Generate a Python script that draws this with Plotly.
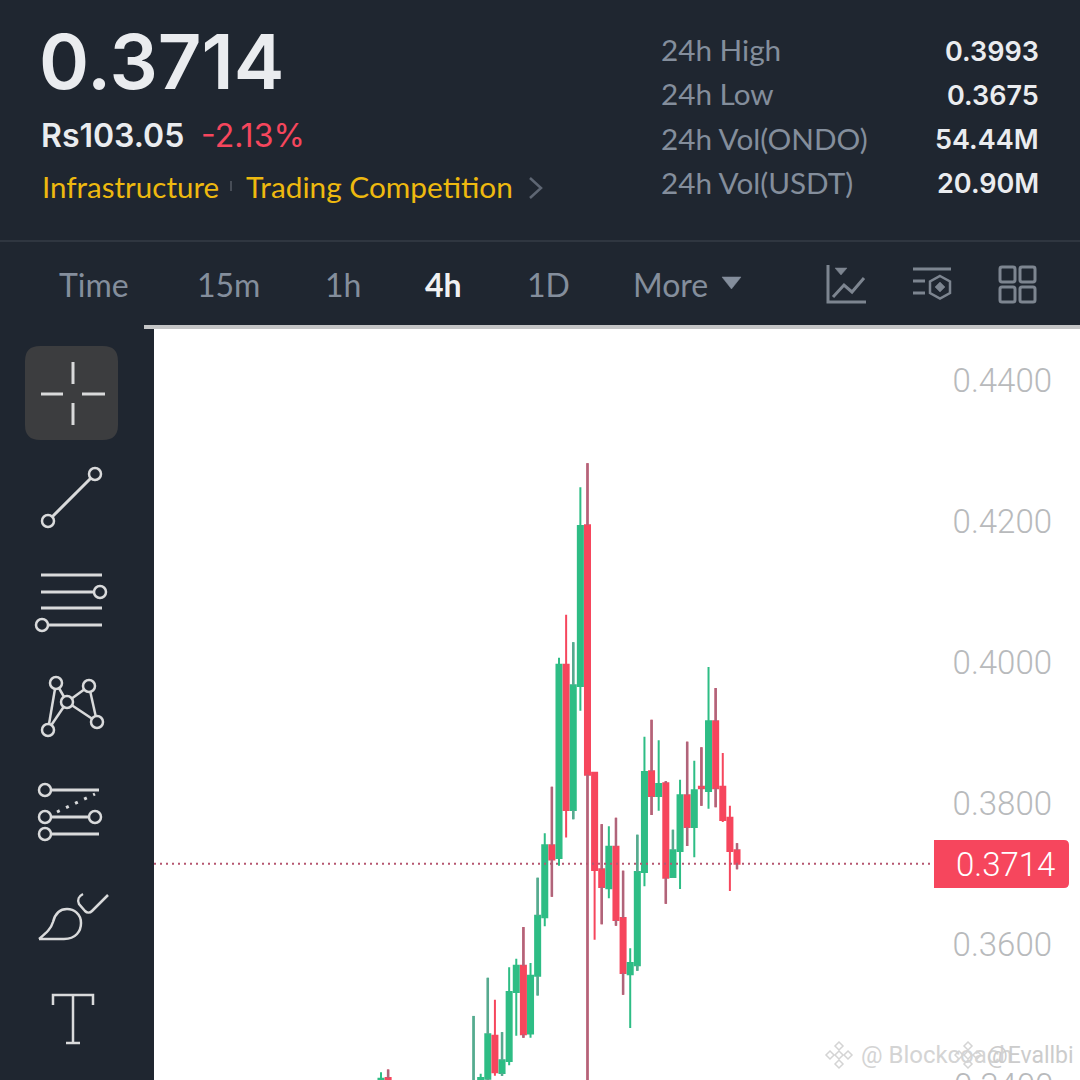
import plotly.graph_objects as go

# candle slots, slot 2-12 sit below the visible part of the chart
candle_x = [0, 1] + list(range(13, 51))

opens = [0.3395, 0.3410, 0.3385, 0.3400, 0.3409, 0.3470, 0.3417, 0.3434, 0.3532, 0.3569,
         0.3473, 0.3555, 0.3638, 0.3740, 0.3722, 0.3996, 0.3790, 0.3966, 0.4194, 0.3843,
         0.3706, 0.3679, 0.3738, 0.3637, 0.3557, 0.3570, 0.3702, 0.3845, 0.3810, 0.3828,
         0.3695, 0.3732, 0.3811, 0.3766, 0.3823, 0.3817, 0.3916, 0.3823, 0.3779, 0.3733]
highs = [0.3418, 0.3422, 0.3498, 0.3416, 0.3552, 0.3521, 0.3475, 0.3567, 0.3579, 0.3624,
         0.3573, 0.3694, 0.3757, 0.3823, 0.4006, 0.4067, 0.4028, 0.4248, 0.4282, 0.3844,
         0.3770, 0.3767, 0.3779, 0.3704, 0.3594, 0.3755, 0.3894, 0.3918, 0.3889, 0.3831,
         0.3762, 0.3833, 0.3887, 0.3860, 0.3879, 0.3993, 0.3963, 0.3871, 0.3796, 0.3743]
lows = [0.3390, 0.3392, 0.3378, 0.3395, 0.3404, 0.3413, 0.3413, 0.3428, 0.3470, 0.3467,
        0.3467, 0.3527, 0.3625, 0.3667, 0.3711, 0.3751, 0.3777, 0.3931, 0.3380, 0.3606,
        0.3628, 0.3665, 0.3626, 0.3528, 0.3481, 0.3562, 0.3682, 0.3783, 0.3789, 0.3657,
        0.3694, 0.3678, 0.3739, 0.3723, 0.3796, 0.3792, 0.3794, 0.3773, 0.3675, 0.3706]
closes = [0.3409, 0.3398, 0.3400, 0.3410, 0.3472, 0.3418, 0.3435, 0.3532, 0.3569, 0.3472,
          0.3555, 0.3640, 0.3740, 0.3720, 0.3996, 0.3790, 0.3967, 0.4193, 0.3840, 0.3705,
          0.3681, 0.3738, 0.3634, 0.3559, 0.3573, 0.3702, 0.3844, 0.3810, 0.3827, 0.3694,
          0.3733, 0.3811, 0.3766, 0.3818, 0.3821, 0.3916, 0.3821, 0.3776, 0.3732, 0.3714]

# slots whose wick looks washed out in the screenshot
dull_wick_slots = [1, 13, 15, 17, 20, 22, 24, 27, 29, 31, 33, 34, 36, 38, 40, 41, 43, 45, 47, 50]

last_price = 0.3714
tick_values = [0.44, 0.42, 0.40, 0.38, 0.36]
clipped_tick = "0.3400"

stat_names = ["24h High", "24h Low", "24h Vol(ONDO)", "24h Vol(USDT)"]
stat_values = ["0.3993", "0.3675", "54.44M", "20.90M"]
tab_names = ["Time", "15m", "1h", "4h", "1D", "More"]

GREEN = "#2ebd85"
RED = "#f6465d"
DULL_GREEN = "#57a98f"
DULL_RED = "#b0647a"
DARK = "#1f2630"
ICON = "#d9dadb"
ICON_TOP = "#7d8590"
GREY_TEXT = "#848e9c"
WHITE_TEXT = "#eaecef"
YELLOW = "#eeb90f"
TICK_GREY = "#b8babc"
MARK_GREY = "#d4d4d4"


def px(x):
    return x / 1080


def py(y):
    return 1 - y / 1080


shapes = []
annotations = []


def seg(x0, y0, x1, y1, color=ICON, width=3, dash="solid"):
    shapes.append(dict(type="line", xref="paper", yref="paper", x0=px(x0), y0=py(y0), x1=px(x1), y1=py(y1),
                       line=dict(color=color, width=width, dash=dash)))


def ring(x, y, r=6, color=ICON, width=2.5):
    shapes.append(dict(type="circle", xref="paper", yref="paper", x0=px(x - r), x1=px(x + r), y0=py(y + r), y1=py(y - r),
                       fillcolor=DARK, line=dict(color=color, width=width)))


def path(points, color=ICON, width=3, fill=None, close=False):
    d = "M " + " L ".join(f"{px(a):.5f},{py(b):.5f}" for a, b in points)
    if close:
        d += " Z"
    shapes.append(dict(type="path", xref="paper", yref="paper", path=d, fillcolor=fill,
                       line=dict(color=color, width=width)))


def to_paper(d):
    # d holds pixel pairs, letters are passed straight through
    out = []
    for tok in d.split():
        if "," in tok:
            a, b = tok.split(",")
            out.append(f"{px(float(a)):.5f},{py(float(b)):.5f}")
        else:
            out.append(tok)
    return " ".join(out)


def curve(d, color=ICON, width=3):
    shapes.append(dict(type="path", xref="paper", yref="paper", path=to_paper(d),
                       line=dict(color=color, width=width)))


def rbox(x0, y0, x1, y1, r, fill=None, color=None, width=0):
    d = (f"M {x0 + r},{y0} L {x1 - r},{y0} Q {x1},{y0} {x1},{y0 + r} L {x1},{y1 - r} Q {x1},{y1} {x1 - r},{y1} "
         f"L {x0 + r},{y1} Q {x0},{y1} {x0},{y1 - r} L {x0},{y0 + r} Q {x0},{y0} {x0 + r},{y0} Z")
    shapes.append(dict(type="path", xref="paper", yref="paper", path=to_paper(d), fillcolor=fill,
                       line=dict(color=color or "rgba(0,0,0,0)", width=width)))


def label(text, x, y, size, color, anchor="left", font="Lato", weight=400):
    annotations.append(dict(text=text, x=px(x), y=py(y), xref="paper", yref="paper", xanchor=anchor, yanchor="middle",
                            showarrow=False, borderpad=0,
                            font=dict(family=font, size=size, color=color, weight=weight)))


# header
label("0.3714", 38, 61, 76, WHITE_TEXT, font="Inter", weight=600)
label("Rs103.05", 40, 135, 32, WHITE_TEXT, font="Inter", weight=600)
label("-2.13%", 200, 135, 32, RED, font="Inter")
label("Infrastructure", 41, 186, 29.5, YELLOW)
label("Trading Competition", 245, 186, 29.8, YELLOW)
seg(231, 181, 231, 191, "#474d57", 2)
path([(530, 178), (541, 188), (530, 198)], "#5e6673", 2.5)

for i, name in enumerate(stat_names):
    label(name, 660, 50 + 44 * i, 29.7, GREY_TEXT)
    label(stat_values[i], 1040, 51 + 44 * i, 27, WHITE_TEXT, anchor="right", font="Inter", weight=600)

seg(0, 241, 1080, 241, "#363c46", 1.5)

# tabs
tab_centers = [94, 228, 343, 443, 548, 670]
for name, cx in zip(tab_names, tab_centers):
    active = name == "4h"
    label(name, cx, 285, 32, "#f0f1f2" if active else GREY_TEXT, anchor="center", weight=700 if active else 400)
path([(722, 277), (741, 277), (731.5, 289)], "#848e9c", 0.5, fill="#848e9c", close=True)

# top right icons
path([(828, 265), (828, 302), (866, 302)], ICON_TOP, 3)
path([(835, 268), (847, 268), (841, 275)], ICON_TOP, 0.5, fill=ICON_TOP, close=True)
path([(833, 297), (844, 285), (852, 292), (864, 278)], ICON_TOP, 3)
seg(913, 269, 951, 269, ICON_TOP, 3)
seg(913, 281, 925, 281, ICON_TOP, 3)
seg(913, 293, 925, 293, ICON_TOP, 3)
path([(940, 276), (950, 281.5), (950, 293), (940, 298.5), (930, 293), (930, 281.5)], ICON_TOP, 2.5, close=True)
path([(940, 282), (945, 287), (940, 292), (935, 287)], ICON_TOP, 0.5, fill=ICON_TOP, close=True)
rbox(1000, 267, 1015, 282, 2, color=ICON_TOP, width=3)
rbox(1020, 267, 1035, 282, 2, color=ICON_TOP, width=3)
rbox(1000, 287, 1015, 302, 2, color=ICON_TOP, width=3)
rbox(1020, 287, 1035, 302, 2, color=ICON_TOP, width=3)

# strip under the tabs
path([(144, 325), (1080, 325), (1080, 329), (144, 329)], "#c4c5c6", 0, fill="#c4c5c6", close=True)

# left tool bar
rbox(25, 346, 118, 440, 15, fill="#3c3d3f")
seg(73, 362, 73, 384)
seg(73, 403, 73, 425)
seg(41, 394, 63, 394)
seg(82, 394, 105, 394)

seg(48, 521, 95, 474)
ring(48, 521)
ring(95, 474)

seg(41, 575, 102, 575)
seg(41, 592, 95, 592)
seg(41, 608, 102, 608)
seg(48, 625, 102, 625)
ring(100, 592)
ring(42, 625)

for a, b in [((56, 683), (48, 730)), ((56, 683), (67, 702)), ((67, 702), (89, 686)),
             ((89, 686), (97, 722)), ((67, 702), (97, 722)), ((67, 702), (48, 730))]:
    seg(a[0], a[1], b[0], b[1], width=2.5)
for c in [(56, 683), (89, 686), (67, 702), (48, 730), (97, 722)]:
    ring(c[0], c[1])

seg(50, 790, 99, 790)
seg(50, 817, 90, 817)
seg(50, 834, 99, 834)
seg(57, 812, 95, 794, width=3, dash="3px,7px")
ring(45, 790)
ring(45, 817)
ring(95, 817)
ring(45, 834)

curve("M 39,939 L 64,939 C 76,939 81,931 81,923 C 81,914 74,909 67,909 C 59,909 55,914 53,922 C 51,929 46,933 39,939", width=2.5)
curve("M 83,894 C 79,896 77,900 79,904 L 85,911 C 87,913 90,913 92,911 L 108,895", width=2.5)

path([(53, 1005), (53, 995), (93, 995), (93, 1005)], ICON, 2.5)
seg(73, 995, 73, 1043, width=2.5)
seg(66, 1043, 80, 1043, width=2.5)

# last price line and tag
shapes.append(dict(type="line", xref="paper", yref="y", x0=px(154), x1=px(932), y0=last_price, y1=last_price,
                   line=dict(color="#b5566f", width=2, dash="2px,4px")))
shapes.append(dict(type="path", xref="paper", yref="paper", fillcolor=RED, line=dict(color=RED, width=0),
                   path=to_paper("M 934,840 L 1064,840 Q 1069,840 1069,845 L 1069,883 Q 1069,888 1064,888 L 934,888 Z")))
label(f"{last_price:.4f}", 1056, 864, 33, "#ffffff", anchor="right", font="Roboto", weight=300)

# this tick falls just past the bottom of the plot
label(clipped_tick, 1054, 1085, 33, TICK_GREY, anchor="right", font="Roboto", weight=300)

# the two overlapping watermarks, logo is four small diamonds round a middle one
for cx in [839, 968]:
    for dx, dy in [(0, 0), (-9, 0), (9, 0), (0, -9), (0, 9)]:
        r = 4
        path([(cx + dx, 1055 + dy - r), (cx + dx + r, 1055 + dy), (cx + dx, 1055 + dy + r), (cx + dx - r, 1055 + dy)],
             MARK_GREY, 1.5, close=True)
label("@ Blockcoach", 860, 1055, 24, MARK_GREY, font="Roboto")
label("@Evallbi", 986, 1055, 23, "#cccccc", font="Roboto")

# wicks that look washed out go over the plain ones
dull_x = {"up": [], "down": []}
dull_y = {"up": [], "down": []}
for x, o, h, l, c in zip(candle_x, opens, highs, lows, closes):
    if x in dull_wick_slots:
        key = "up" if c >= o else "down"
        dull_x[key] += [x, x, None, x, x, None]
        dull_y[key] += [h, max(o, c), None, min(o, c), l, None]

fig = go.Figure()
fig.add_trace(go.Candlestick(
    x=candle_x, open=opens, high=highs, low=lows, close=closes,
    increasing=dict(line=dict(color=GREEN, width=2), fillcolor=GREEN),
    decreasing=dict(line=dict(color=RED, width=2), fillcolor=RED),
    whiskerwidth=0,
    showlegend=False,
))
fig.add_trace(go.Scatter(x=dull_x["up"], y=dull_y["up"], mode="lines", hoverinfo="skip", showlegend=False,
                         line=dict(color=DULL_GREEN, width=2.5)))
fig.add_trace(go.Scatter(x=dull_x["down"], y=dull_y["down"], mode="lines", hoverinfo="skip", showlegend=False,
                         line=dict(color=DULL_RED, width=2.5)))

fig.update_layout(
    width=1080,
    height=1080,
    margin=dict(l=0, r=0, t=0, b=0),
    paper_bgcolor=DARK,
    plot_bgcolor="#ffffff",
    boxgap=0.16,
    boxgroupgap=0.16,
    showlegend=False,
    shapes=shapes,
    annotations=annotations,
    xaxis=dict(domain=[px(154), 1], range=[-31.88, 98.17], visible=False, rangeslider=dict(visible=False)),
    yaxis=dict(
        domain=[0, py(329)],
        range=[0.34071, 0.44723],
        side="right",
        tickmode="array",
        tickvals=tick_values,
        ticktext=[f"{v:.4f}" for v in tick_values],
        ticklabelposition="inside",
        ticklabelstandoff=25,
        ticks="",
        showgrid=False,
        zeroline=False,
        showline=False,
        tickfont=dict(family="Roboto", size=33, color=TICK_GREY, weight=300),
    ),
)

fig.write_html("out.html", config=dict(displayModeBar=False),
               post_script="document.body.style.margin='0';document.body.style.overflow='hidden';")
